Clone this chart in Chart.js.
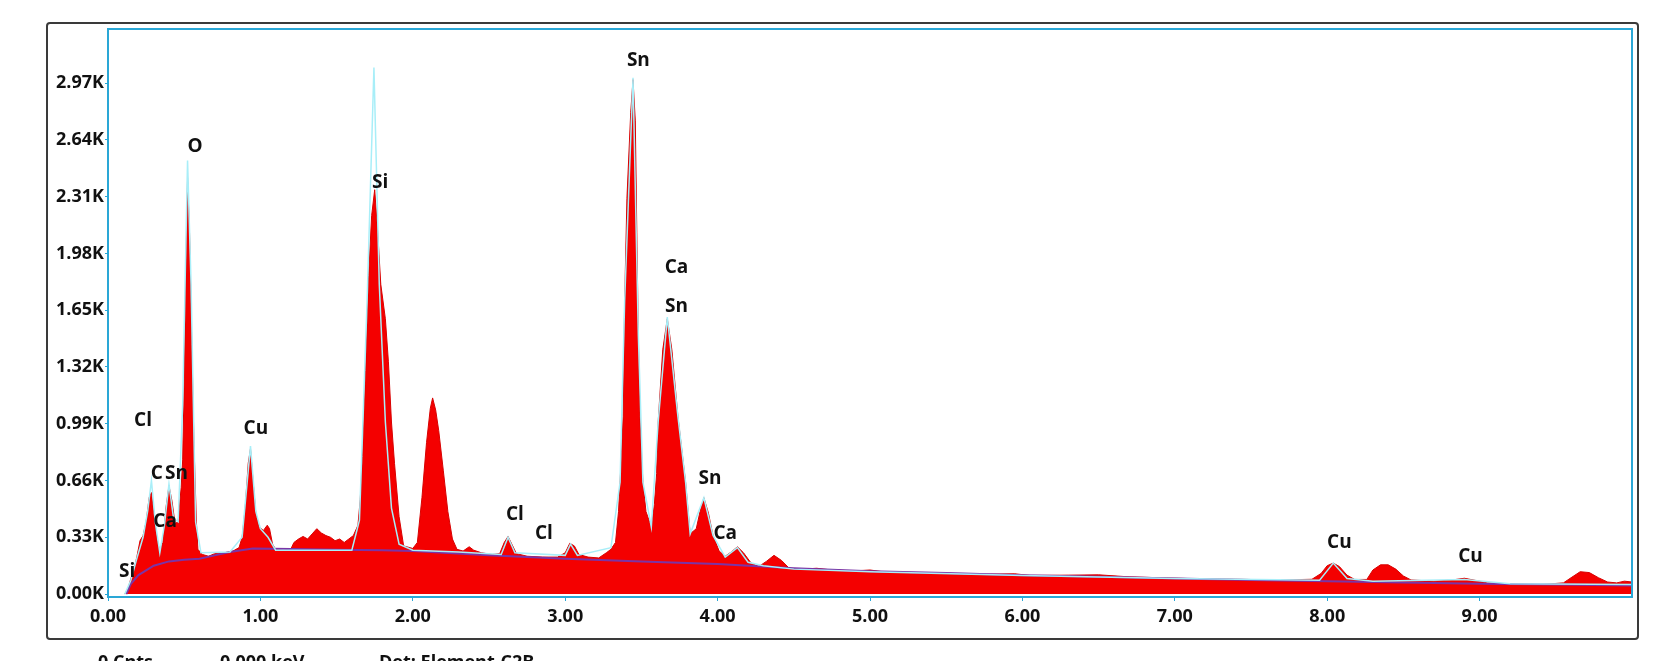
<!DOCTYPE html>
<html>
<head>
<meta charset="utf-8">
<script src="https://cdn.jsdelivr.net/npm/chart.js@4.4.1/dist/chart.umd.min.js"></script>
<style>
  html, body { margin: 0; padding: 0; background: #fff; }
  canvas { display: block; }
</style>
</head>
<body>
<canvas id="edsChart" width="1675" height="661"></canvas>
<script>
// spectrum (keV, counts)
const energy = [0.11,0.13,0.15,0.17,0.19,0.21,0.23,0.25,0.27,0.285,0.30,0.32,0.34,0.36,0.38,0.40,0.42,0.44,0.46,0.48,0.49,0.50,0.51,0.522,0.535,0.55,0.565,0.58,0.59,0.62,0.66,0.70,0.76,0.82,0.86,0.88,0.90,0.92,0.935,0.95,0.97,0.99,1.02,1.045,1.06,1.08,1.10,1.15,1.20,1.22,1.25,1.28,1.31,1.34,1.37,1.40,1.43,1.46,1.49,1.52,1.55,1.58,1.61,1.64,1.655,1.67,1.69,1.71,1.73,1.75,1.77,1.79,1.82,1.84,1.86,1.88,1.91,1.94,2.00,2.03,2.06,2.09,2.115,2.13,2.15,2.17,2.20,2.23,2.26,2.29,2.33,2.37,2.40,2.45,2.52,2.57,2.60,2.625,2.65,2.68,2.75,2.85,2.95,3.00,3.03,3.06,3.09,3.15,3.22,3.27,3.30,3.33,3.35,3.36,3.38,3.39,3.405,3.43,3.445,3.46,3.47,3.48,3.49,3.51,3.53,3.565,3.585,3.60,3.61,3.64,3.67,3.70,3.74,3.79,3.82,3.86,3.885,3.91,3.94,3.97,4.01,4.05,4.09,4.13,4.17,4.22,4.27,4.32,4.37,4.42,4.47,4.55,4.65,4.75,4.90,5.00,5.10,5.30,5.50,5.75,5.95,6.05,6.30,6.50,6.70,6.90,7.10,7.40,7.70,7.90,7.96,8.00,8.04,8.08,8.13,8.18,8.26,8.30,8.35,8.40,8.45,8.50,8.55,8.70,8.82,8.90,8.97,9.05,9.20,9.40,9.55,9.60,9.66,9.72,9.78,9.84,9.90,9.95,10.00];
const counts = [0,30,90,140,220,310,340,420,560,590,470,320,250,300,500,630,540,410,420,620,780,1250,1850,2420,2100,1450,850,420,260,230,220,235,240,250,270,330,500,760,845,680,470,390,370,400,380,290,260,255,262,300,320,335,320,350,380,355,340,330,310,320,300,320,340,400,550,800,1300,1850,2200,2350,2100,1800,1600,1350,1000,760,450,280,265,300,560,880,1080,1140,1070,950,720,480,320,260,250,275,255,240,230,235,300,335,290,235,220,215,215,240,295,280,230,215,210,240,260,300,480,650,1030,1700,2300,2800,2990,2750,2100,1500,1030,650,480,390,520,700,1000,1420,1600,1420,1030,650,350,380,480,560,470,340,250,220,245,275,240,180,160,190,225,195,150,145,150,140,135,140,128,125,118,115,118,108,110,112,100,95,90,86,82,86,120,165,180,160,110,85,85,140,170,170,145,105,82,75,82,92,80,65,58,55,65,95,130,125,95,70,65,75,70];

// fitted curve
const fitEnergy = [0.11,0.15,0.19,0.23,0.26,0.285,0.31,0.34,0.37,0.40,0.43,0.46,0.49,0.522,0.545,0.575,0.61,0.80,0.88,0.935,0.97,1.00,1.05,1.10,1.60,1.65,1.70,1.745,1.78,1.82,1.86,1.91,2.00,2.30,2.58,2.625,2.67,3.00,3.035,3.08,3.30,3.36,3.39,3.445,3.48,3.51,3.565,3.61,3.67,3.74,3.79,3.82,3.91,3.97,4.05,4.13,4.20,4.30,4.50,5.00,6.00,7.00,7.95,8.04,8.13,8.30,8.90,9.20,10.00];
const fitCounts = [0,80,210,330,480,660,420,240,400,640,440,420,1100,2520,1800,420,240,245,330,860,480,380,330,255,255,430,1700,3060,1800,1000,500,290,255,245,230,330,240,225,290,225,270,650,1700,3000,1500,650,390,1000,1610,1030,650,350,560,340,215,270,185,165,145,130,108,90,80,180,90,75,85,60,55];

// continuum background
const bgEnergy = [0.12,0.15,0.20,0.30,0.40,0.50,0.60,0.70,0.80,0.95,1.20,1.50,1.80,2.00,2.50,3.00,3.50,4.00,4.50,5.00,5.50,6.00,6.50,7.00,7.50,8.00,8.50,9.00,9.50,10.00];
const bgCounts = [0,60,110,165,190,200,205,225,245,265,262,258,255,250,225,205,190,175,150,133,122,110,100,90,82,75,67,60,55,50];

// element labels
const labelText = ['Sn','O','Si','Ca','Sn','Cl','Cu','C','Sn','Ca','Si','Cl','Cl','Sn','Ca','Cu','Cu'];
const labelEnergy = [3.48,0.571,1.786,3.73,3.73,0.23,0.97,0.32,0.45,0.375,0.125,2.67,2.86,3.95,4.05,8.08,8.94];
const labelCounts = [3100,2600,2390,1900,1670,1010,960,700,700,420,130,460,350,670,350,300,220];

const xTickValues = [0,1,2,3,4,5,6,7,8,9];
const yTickValues = [0,330,660,990,1320,1650,1980,2310,2640,2970];

const footerTexts = ['0 Cnts', '0.000 keV', 'Det: Element-C2B'];

const pts = (xs, ys) => xs.map((x, i) => ({ x: x, y: ys[i] }));

const frame = {
    id: 'frame',
    beforeDraw(chart) {
        const c = chart.ctx;
        c.save();
        c.strokeStyle = '#3a3a3a';
        c.lineWidth = 2;
        c.beginPath();
        c.roundRect(47, 23, 1591, 616, 3);
        c.stroke();
        c.restore();
    },
    afterDatasetsDraw(chart) {
        const c = chart.ctx;
        const a = chart.chartArea;
        const xs = chart.scales.x, ys = chart.scales.y;
        c.save();
        c.strokeStyle = '#2aa7d6';
        c.lineWidth = 2;
        c.strokeRect(a.left, a.top, a.right - a.left, a.bottom - a.top);

        c.fillStyle = '#111';
        c.font = 'bold 19px "Open Sans"';
        c.textAlign = 'center';
        c.textBaseline = 'middle';
        labelText.forEach((t, i) => {
            c.fillText(t, xs.getPixelForValue(labelEnergy[i]), ys.getPixelForValue(labelCounts[i]));
        });

        c.textAlign = 'left';
        c.textBaseline = 'top';
        c.font = 'bold 18px "Open Sans"';
        [98, 220, 379].forEach((x, i) => c.fillText(footerTexts[i], x, 654));
        c.restore();
    }
};

new Chart(document.getElementById('edsChart'), {
    type: 'line',
    data: {
        datasets: [
            {
                label: 'Fit',
                data: pts(fitEnergy, fitCounts),
                borderColor: '#a8eef8',
                borderWidth: 1.5,
                pointRadius: 0,
                fill: false,
                order: 0
            },
            {
                label: 'Background',
                data: pts(bgEnergy, bgCounts),
                borderColor: '#7a34a6',
                borderWidth: 2,
                pointRadius: 0,
                fill: false,
                order: 1
            },
            {
                label: 'Spectrum',
                data: pts(energy, counts),
                borderColor: '#d80000',
                borderWidth: 1,
                backgroundColor: '#f40000',
                pointRadius: 0,
                fill: 'origin',
                order: 2
            }
        ]
    },
    options: {
        responsive: false,
        animation: false,
        layout: { padding: { left: 0, top: 29, right: 43, bottom: 0 } },
        plugins: {
            legend: { display: false },
            tooltip: { enabled: false }
        },
        scales: {
            x: {
                type: 'linear',
                min: 0,
                max: 10,
                afterBuildTicks: s => { s.ticks = xTickValues.map(v => ({ value: v })); },
                afterFit: s => { s.height = 64; },
                ticks: {
                    color: '#111',
                    font: { family: 'Open Sans', size: 18, weight: 'bold' },
                    padding: 5,
                    maxRotation: 0,
                    callback: v => v.toFixed(2)
                },
                grid: { drawOnChartArea: false, drawTicks: true, tickLength: 4, color: '#2aa7d6' },
                border: { display: true, color: '#2aa7d6', width: 2 }
            },
            y: {
                type: 'linear',
                min: -17,
                max: 3284,
                afterBuildTicks: s => { s.ticks = yTickValues.map(v => ({ value: v })); },
                afterFit: s => { s.width = 108; },
                ticks: {
                    color: '#111',
                    font: { family: 'Open Sans', size: 18, weight: 'bold' },
                    padding: 1,
                    callback: v => (v / 1000).toFixed(2) + 'K'
                },
                grid: { drawOnChartArea: false, drawTicks: true, tickLength: 3, color: '#2aa7d6' },
                border: { display: true, color: '#2aa7d6', width: 2 }
            }
        }
    },
    plugins: [frame]
});
</script>
</body>
</html>
